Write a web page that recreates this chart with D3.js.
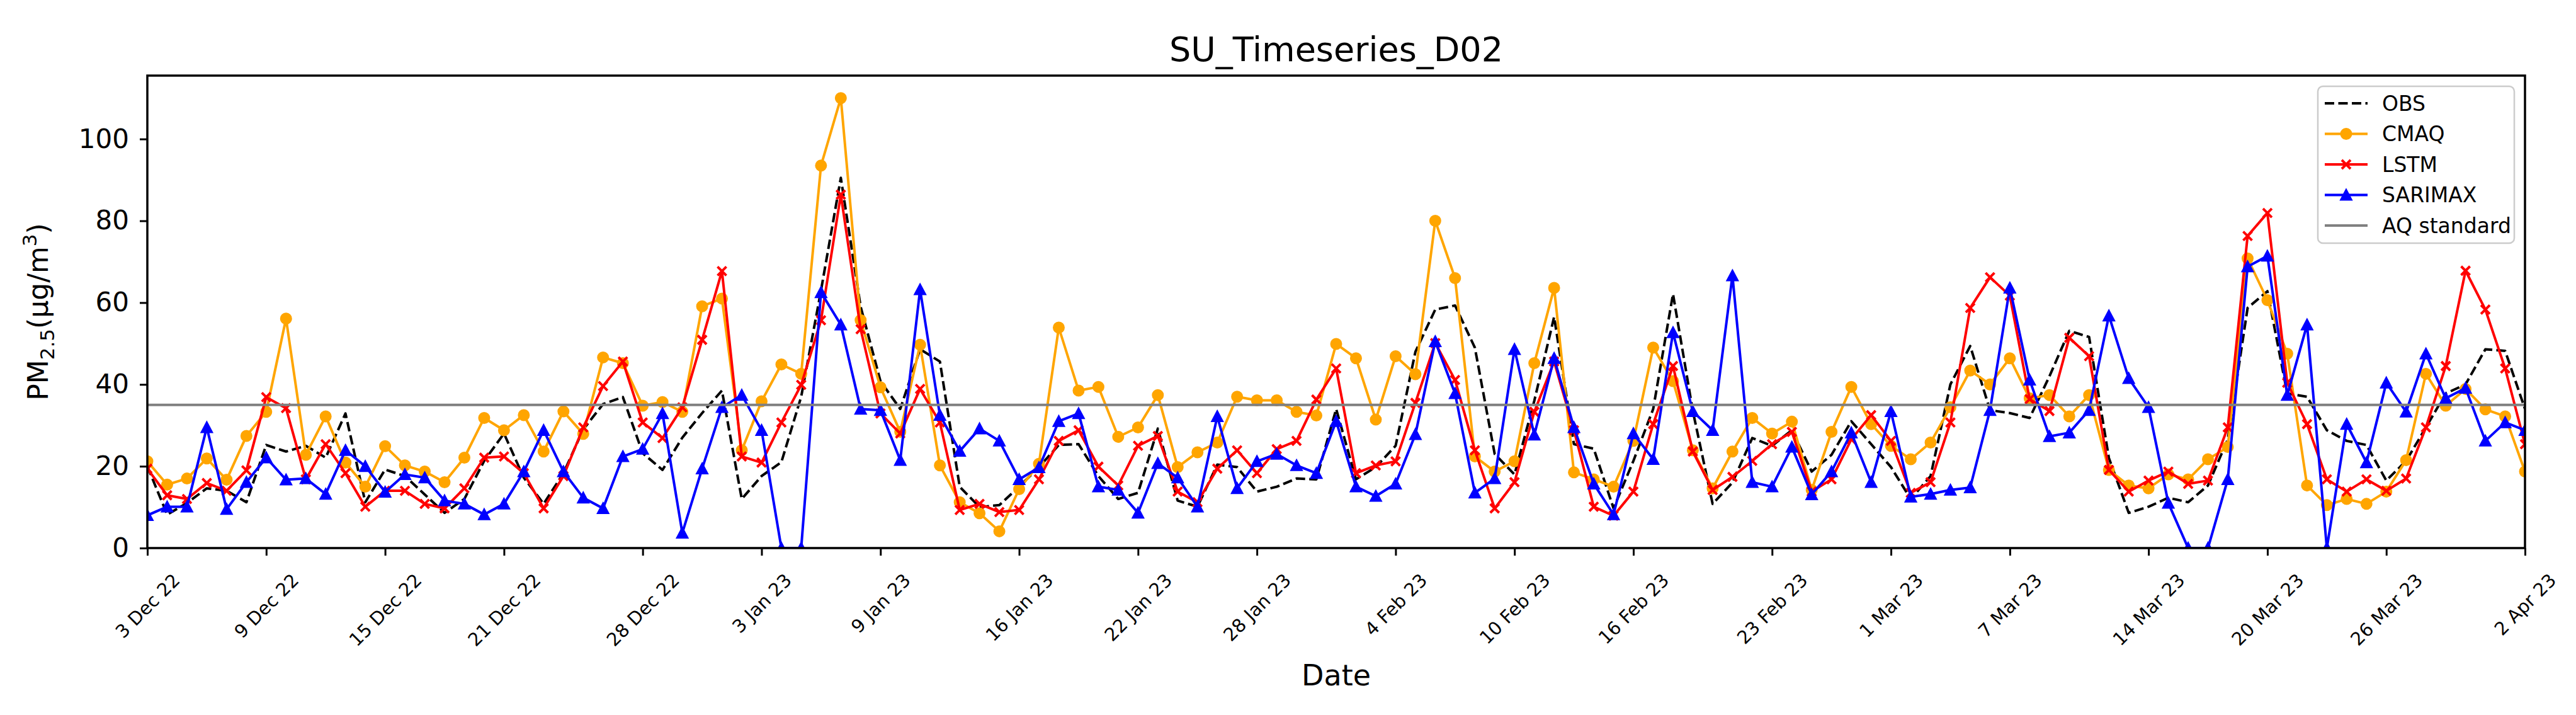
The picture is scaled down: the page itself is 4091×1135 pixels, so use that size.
<!DOCTYPE html>
<html>
<head>
<meta charset="utf-8">
<script src="https://cdn.jsdelivr.net/npm/d3@7"></script>
<style>
  body { margin: 0; background: #fff; }
  text { font-family: "DejaVu Sans", sans-serif; fill: #000; }
</style>
</head>
<body>
<div id="chart"></div>
<script>
// daily PM2.5 at SU, 3 Dec 2022 .. 2 Apr 2023
var startDate = "2022-12-03"
var obs = [20, 8.2, 11, 14.6, 14, 11.2, 25.2, 23.6, 25, 22.1, 32.9, 11.2, 19.2, 17.6, 13.1, 8.6, 12, 21.3, 28, 17.2,
    10.8, 18.3, 29, 35.2, 36.9, 23.2, 19.1, 27, 33, 38.5, 12, 17.6, 21, 37, 63, 90.5, 59, 40.8, 34, 48.6,
    45.6, 15, 10, 10.5, 15, 19.8, 25.2, 25.4, 17.6, 12, 13.5, 29.2, 11.6, 10.1, 20.4, 19.8, 13.8, 15, 17, 16.8,
    34, 16.8, 19.8, 25, 48, 58.3, 59.3, 49, 23, 18, 36, 56.5, 25.4, 24.3, 9.7, 21.3, 34, 62.1, 33.5, 10.8,
    16, 26.9, 25, 28.8, 18.7, 22.8, 31, 25.4, 19.8, 12, 17.6, 40, 49.4, 33.7, 33, 31.8, 42, 53.1, 51.6, 22,
    8.6, 10.1, 12.3, 11.2, 15.3, 26.6, 58.7, 62.8, 37.8, 37, 28.8, 26.2, 25.2, 16.5, 21.3, 29.5, 37.8, 40, 48.6, 48.2,
    34]
var cmaq = [21.2, 15.5, 17, 21.9, 16.7, 27.4, 33.3, 56.1, 22.8, 32.2, 20.9, 15, 24.9, 20.2, 18.7, 16.1, 22.1, 31.8, 28.8, 32.5,
    23.6, 33.4, 27.9, 46.6, 45.2, 34.8, 35.7, 33.3, 59.1, 61, 23.9, 35.9, 44.9, 42.6, 93.5, 110, 55.7, 39.3, 28.4, 49.7,
    20.2, 11.2, 8.5, 4.1, 14.4, 20.6, 53.9, 38.5, 39.4, 27.2, 29.5, 37.4, 19.8, 23.4, 25.8, 37, 36.1, 36.1, 33.3, 32.4,
    49.9, 46.4, 31.4, 46.9, 42.5, 80, 66, 22.4, 18.7, 21.2, 45.2, 63.6, 18.5, 16.8, 15, 26.2, 49, 40.8, 23.9, 14.6,
    23.6, 31.8, 28, 30.9, 14.2, 28.4, 39.4, 30.3, 25, 21.7, 25.8, 34.4, 43.4, 40, 46.4, 36.6, 37.4, 32.2, 37.4, 19.1,
    15.3, 14.6, 18, 16.8, 21.7, 24.7, 70.8, 60.6, 47.5, 15.3, 10.5, 12, 10.8, 13.8, 21.5, 42.6, 34.8, 38.9, 33.9, 32.2,
    18.7]
var lstm = [19.4, 12.9, 12, 15.9, 14, 19, 36.9, 34.2, 16.8, 25.4, 18.3, 10.1, 14, 14, 10.8, 9.7, 14.6, 22.1, 22.4, 18.3,
    9.7, 17.6, 29.5, 39.6, 45.6, 30.7, 26.9, 34.4, 50.9, 67.7, 22.4, 20.9, 30.7, 39.9, 55.7, 86.4, 53.5, 32.9, 28, 38.9,
    30.7, 9.3, 10.8, 8.8, 9.3, 16.8, 26.2, 28.8, 19.9, 15.3, 25, 27.4, 13.8, 11.2, 19.4, 23.9, 18.3, 24.2, 26.2, 36.3,
    43.9, 18.3, 20.2, 21.2, 35.5, 50.1, 41.1, 23.9, 9.7, 16.1, 33.3, 45.6, 28.8, 10.1, 7.9, 13.8, 30.3, 44.5, 23.6, 14.2,
    17.4, 21.3, 25.4, 28.4, 13.8, 16.8, 26.6, 32.5, 26.2, 13.5, 16.1, 30.7, 58.7, 66.2, 61.7, 36.4, 33.5, 51.4, 46.9, 19.1,
    13.8, 16.5, 18.7, 15.7, 16.5, 29.5, 76.3, 81.9, 40.4, 30.3, 16.8, 13.8, 16.8, 14, 17, 29.5, 44.5, 67.8, 58.3, 43.9,
    25.4]
var sarimax = [8, 10.1, 10.1, 29.5, 9.5, 16.1, 22.1, 16.7, 17, 13.2, 23.9, 20, 13.7, 18, 17.2, 11.6, 10.8, 8.2, 10.8, 18.7,
    28.8, 18.7, 12.3, 9.7, 22.4, 24.2, 32.9, 3.7, 19.4, 34.4, 37.4, 28.8, 0, 0, 62.5, 54.6, 34, 33.7, 21.5, 63.2,
    32.5, 23.7, 29.2, 26.2, 16.8, 19.7, 31, 32.9, 15, 14.2, 8.6, 20.7, 17.2, 10.1, 32.2, 14.6, 21.2, 23, 20.2, 18.3,
    31, 15, 12.7, 15.7, 27.8, 50.5, 37.8, 13.5, 17, 48.6, 27.7, 46.4, 29.5, 15.7, 8.2, 28, 21.7, 52.7, 33.4, 28.8,
    66.6, 16.1, 15, 24.7, 13.1, 18.7, 28.2, 16.1, 33.4, 12.5, 13.2, 14.2, 14.8, 33.7, 63.6, 41.1, 27.3, 28.2, 33.7, 56.8,
    41.5, 34.4, 11, 0, 0, 16.8, 68.8, 71.4, 37.4, 54.6, 0, 30.3, 20.9, 40.4, 33.3, 47.5, 36.6, 39.1, 26.2, 30.7,
    28.8]
var aqStandard = 35
var tickDates = ["2022-12-03", "2022-12-09", "2022-12-15", "2022-12-21", "2022-12-28", "2023-01-03", "2023-01-09",
    "2023-01-16", "2023-01-22", "2023-01-28", "2023-02-04", "2023-02-10", "2023-02-16", "2023-02-23", "2023-03-01",
    "2023-03-07", "2023-03-14", "2023-03-20", "2023-03-26", "2023-04-02"]
var yTicks = [0, 20, 40, 60, 80, 100]
var seriesNames = ["OBS", "CMAQ", "LSTM", "SARIMAX", "AQ standard"]

const W = 4091, H = 1135
const margin = {top: 120, right: 81, bottom: 265, left: 234}
const width = W - margin.left - margin.right, height = H - margin.top - margin.bottom
const lw = 4

var parse = d3.utcParse("%Y-%m-%d")
var fmt = d3.utcFormat("%-d %b %y")
var dates = obs.map((d, i) => d3.utcDay.offset(parse(startDate), i))

var x = d3.scaleUtc().domain(d3.extent(dates)).range([0, width])
var y = d3.scaleLinear().domain([0, d3.max([].concat(obs, cmaq, lstm, sarimax)) * 1.05]).range([height, 0])

// marker shapes (matplotlib-ish: o, x, ^)
var markers = {
    circle: g => g.append("circle").attr("r", 8.5),
    cross: g => g.append("path").attr("d", "M-7,-7L7,7M-7,7L7,-7").style("stroke-width", 4),
    triangle: g => g.append("path").attr("d", "M0,-9L9,8L-9,8Z")
}

var series = [
    {name: seriesNames[0], values: obs, color: "#000000", dash: "15,6.5", marker: null},
    {name: seriesNames[1], values: cmaq, color: "#FFA500", dash: null, marker: "circle"},
    {name: seriesNames[2], values: lstm, color: "#FF0000", dash: null, marker: "cross"},
    {name: seriesNames[3], values: sarimax, color: "#0000FF", dash: null, marker: "triangle"}
]

var svg = d3.select("#chart").append("svg").attr("width", W).attr("height", H)
svg.append("rect").attr("width", W).attr("height", H).attr("fill", "#fff")
var g = svg.append("g").attr("transform", "translate(" + margin.left + "," + margin.top + ")")

g.append("clipPath").attr("id", "clip").append("rect").attr("width", width).attr("height", height)
var plot = g.append("g").attr("clip-path", "url(#clip)")

var line = d3.line().x((d, i) => x(dates[i])).y(d => y(d))

series.forEach(function (s) {
    plot.append("path").datum(s.values).attr("d", line)
        .attr("fill", "none").attr("stroke", s.color).attr("stroke-width", lw)
        .attr("stroke-dasharray", s.dash).attr("stroke-linejoin", "round")
    if (s.marker) {
        plot.selectAll(null).data(s.values).enter().append("g")
            .attr("transform", (d, i) => "translate(" + x(dates[i]) + "," + y(d) + ")")
            .attr("fill", s.color).attr("stroke", s.color).attr("stroke-width", 2)
            .each(function () { markers[s.marker](d3.select(this)) })
    }
})

// AQ standard line
plot.append("line").attr("x1", 0).attr("x2", width).attr("y1", y(aqStandard)).attr("y2", y(aqStandard))
    .attr("stroke", "#808080").attr("stroke-width", lw)

// axes
var xAxis = g.append("g").attr("transform", "translate(0," + height + ")")
    .call(d3.axisBottom(x).tickValues(tickDates.map(parse)).tickFormat(fmt).tickSize(12).tickSizeOuter(0))
var yAxis = g.append("g")
    .call(d3.axisLeft(y).tickValues(yTicks).tickSize(12).tickSizeOuter(0).tickPadding(17))
g.selectAll(".domain").remove()
g.selectAll(".tick line").attr("stroke", "#000").attr("stroke-width", 3)
yAxis.selectAll("text").style("font-size", "42px").attr("font-family", null)

// rotated date labels, bbox centred under the tick
xAxis.selectAll("text").style("font-size", "29px").attr("font-family", null)
    .attr("dy", null).attr("text-anchor", "middle").attr("dominant-baseline", "central")
    .each(function () {
        var L = this.getComputedTextLength(), h = 29 * 1.05
        var cy = 35 + (L + h) / (2 * Math.SQRT2)
        d3.select(this).attr("y", 0).attr("transform", "translate(0," + cy + ") rotate(-45)")
    })

// frame
g.append("rect").attr("width", width).attr("height", height)
    .attr("fill", "none").attr("stroke", "#000").attr("stroke-width", 3.5)

// title and axis labels
svg.append("text").attr("x", margin.left + width / 2).attr("y", 97).attr("text-anchor", "middle")
    .style("font-size", "54px").text("SU_Timeseries_D02")
svg.append("text").attr("x", margin.left + width / 2).attr("y", 1088).attr("text-anchor", "middle")
    .style("font-size", "46px").text("Date")

var yl = svg.append("text").attr("transform", "translate(76," + (margin.top + height / 2) + ") rotate(-90)")
    .attr("text-anchor", "middle").style("font-size", "44px")
yl.append("tspan").text("PM")
yl.append("tspan").attr("dy", 10).style("font-size", "31px").text("2.5")
yl.append("tspan").attr("dy", -10).text("(\u00b5g/m")
yl.append("tspan").attr("dy", -18).style("font-size", "31px").text("3")
yl.append("tspan").attr("dy", 18).text(")")

// legend
var lx = 3681 - margin.left, ly = 137 - margin.top, rowH = 48.5
var legend = g.append("g").attr("transform", "translate(" + lx + "," + ly + ")")
legend.append("rect").attr("width", 312).attr("height", 249).attr("rx", 8)
    .attr("fill", "#fff").attr("fill-opacity", 0.8).attr("stroke", "#cccccc").attr("stroke-width", 2.5)
var legendItems = series.concat([{name: seriesNames[4], color: "#808080", dash: null, marker: null}])
legendItems.forEach(function (s, i) {
    var row = legend.append("g").attr("transform", "translate(0," + (27 + i * rowH) + ")")
    row.append("line").attr("x1", 11).attr("x2", 79).attr("stroke", s.color).attr("stroke-width", lw)
        .attr("stroke-dasharray", s.dash)
    if (s.marker) {
        var m = row.append("g").attr("transform", "translate(45,0)")
            .attr("fill", s.color).attr("stroke", s.color).attr("stroke-width", 2)
        markers[s.marker](m)
    }
    row.append("text").attr("x", 102).attr("dominant-baseline", "central").style("font-size", "33px").text(s.name)
})
</script>
</body>
</html>
